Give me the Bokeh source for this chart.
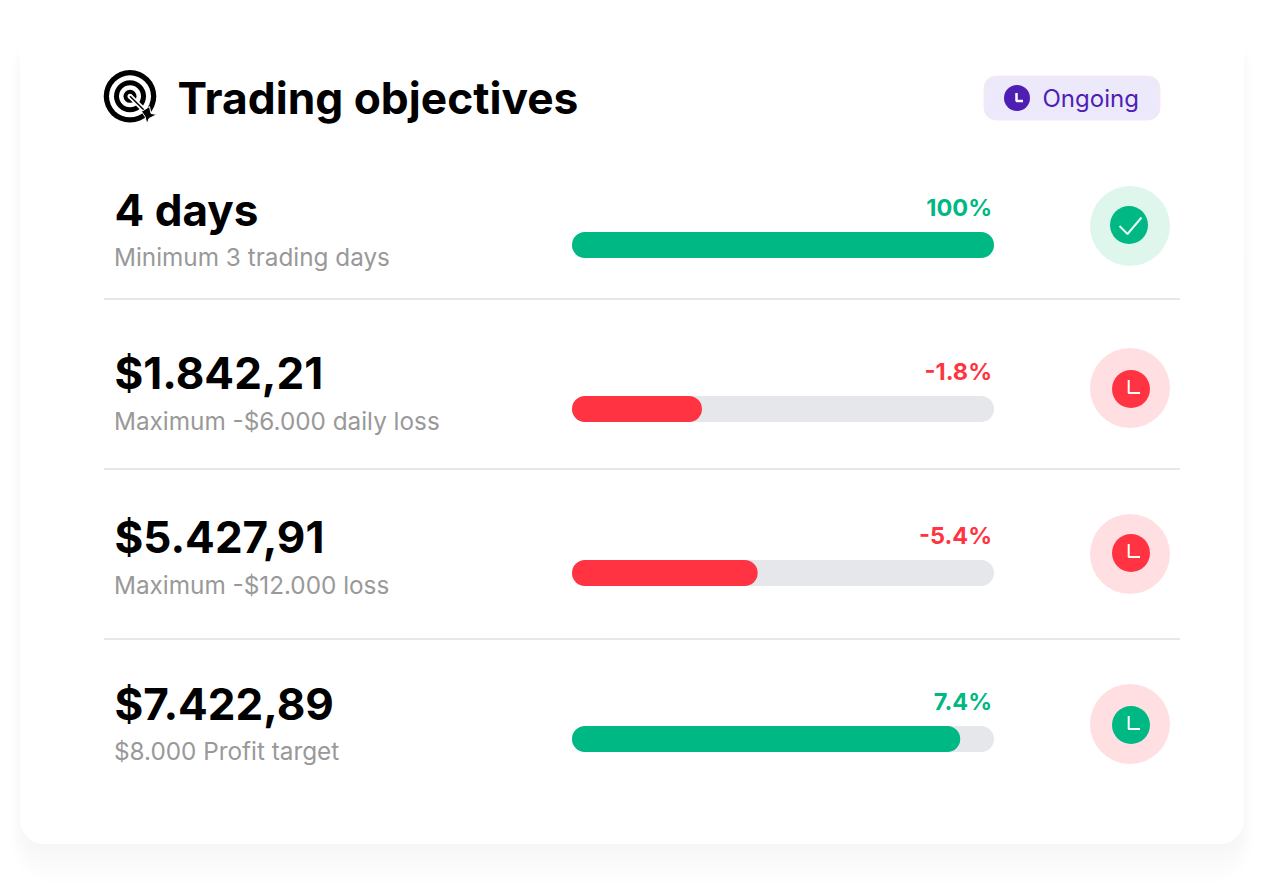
from bokeh.core.properties import value
from bokeh.embed import file_html
from bokeh.models import Range1d
from bokeh.plotting import figure
from bokeh.resources import INLINE

# chart values
values = ["4 days", "$1.842,21", "$5.427,91", "$7.422,89"]
subtitles = ["Minimum 3 trading days", "Maximum -$6.000 daily loss", "Maximum -$12.000 loss", "$8.000 Profit target"]
pct_labels = ["100%", "-1.8%", "-5.4%", "7.4%"]
progress = [100, 30.8, 44, 92]
bar_colors = ["#00b884", "#ff3341", "#ff3341", "#00b884"]
ring_colors = ["#dff6ec", "#ffdfe2", "#ffdfe2", "#ffdfe2"]
dot_colors = ["#00b884", "#ff3341", "#ff3341", "#00b884"]

# row layout, in page pixels
value_y = [210, 373, 537, 704]
sub_y = [257, 421, 585, 751]
pct_y = [207, 371, 535, 701]
bar_y = [245, 409, 573, 739]
icon_x = [1130, 1130, 1130, 1130]
icon_y = [226, 388, 554, 724]
dot_x = [1129, 1131, 1131, 1131]
dot_y = [225, 389, 553, 725]
rule_y = [299, 469, 639]

FONT = value("Inter")
GREY = "#999999"

# 1px = 1 data unit, with y running down like the page
p = figure(width=1264, height=892, x_range=Range1d(0.5, 1264.5), y_range=Range1d(892.5, 0.5),
           output_backend="svg", toolbar_location=None, min_border=0,
           background_fill_color="white", border_fill_color="white", outline_line_color=None)
p.axis.visible = False
p.grid.visible = False

# progress bars get their own 0-100 scale, 0 at x=572 and 100 at x=994
span = (994 - 572) / 100
p.extra_x_ranges["progress"] = Range1d((0.5 - 572) / span, (1264.5 - 572) / span)

# card shadow: stacked rounded boxes going from white to light grey
steps = 16
for i in range(steps):
    t = 1 - i / (steps - 1)
    shade = 255 - round((i + 1) * 9 / steps)
    p.quad(left=[24 - 13 * t], right=[1240 + 13 * t], top=[50 - 20 * t], bottom=[846 + 38 * t],
           fill_color=f"#{shade:02x}{shade:02x}{shade:02x}", line_color=None, border_radius=24 + round(20 * t))
p.quad(left=[20], right=[1244], top=[20], bottom=[844], fill_color="white", line_color=None, border_radius=24)

# target icon
for r, c in [(26.3, "black"), (21, "white"), (16, "black"), (11, "white"), (6.5, "black"), (2.5, "white")]:
    p.circle(x=[130], y=[96.3], radius=r, fill_color=c, line_color=None)
p.line(x=[130, 147], y=[96.3, 113], line_color="white", line_width=5)
p.line(x=[130, 147], y=[96.3, 113], line_color="black", line_width=1.5)
p.patch(x=[141.5, 149.5, 151, 157, 149, 147, 145], y=[111.5, 106.5, 113.5, 114.5, 118.5, 124, 116.5],
        fill_color="black", line_color="white", line_width=1)

p.text(x=[177.5], y=[98], text=["Trading objectives"], text_font=FONT, text_font_style="bold",
       text_font_size="44.3px", text_color="black", text_baseline="alphabetic")

# status badge
p.quad(left=[984], right=[1160], top=[76], bottom=[120], fill_color="#ece9fb", line_color="#fbe9ea",
       line_width=1, border_radius=12)
p.circle(x=[1017], y=[98], radius=13, fill_color="#4f1fb3", line_color=None)
p.line(x=[1016.5, 1016.5, 1023], y=[93, 101, 101], line_color="white", line_width=2.5)
p.text(x=[1042.5], y=[98], text=["Ongoing"], text_font=FONT, text_font_size="24px",
       text_color="#4f1fb3", text_baseline="alphabetic")

# rows
p.text(x=[114.5] * 4, y=value_y, text=values, text_font=FONT, text_font_style="bold", text_font_size="44px",
       text_color="black", text_baseline="alphabetic")
p.text(x=[114] * 4, y=sub_y, text=subtitles, text_font=FONT, text_font_size="24.3px",
       text_color=GREY, text_baseline="alphabetic")
p.text(x=[992] * 4, y=pct_y, text=pct_labels, text_font=FONT, text_font_style="bold", text_font_size="23.5px",
       text_color=bar_colors, text_align="right", text_baseline="alphabetic")

p.hbar(y=bar_y, left=0, right=100, height=26, x_range_name="progress", fill_color="#e6e7eb",
       line_color=None, border_radius=13)
p.hbar(y=bar_y, left=0, right=progress, height=26, x_range_name="progress", fill_color=bar_colors,
       line_color=None, border_radius=13)

for y in rule_y:
    p.line(x=[104, 1180], y=[y, y], line_color="#e6e7eb", line_width=2)

# status icons
p.circle(x=icon_x, y=icon_y, radius=40, fill_color=ring_colors, line_color=None)
p.circle(x=dot_x, y=dot_y, radius=19, fill_color=dot_colors, line_color=None)
p.line(x=[1119.5, 1127.5, 1141.5], y=[226, 234, 217.5], line_color="#e8f8f2", line_width=2)
for x, y in zip(dot_x[1:], dot_y[1:]):
    p.line(x=[x - 2.3, x - 2.3, x + 9], y=[y - 9, y + 4, y + 4], line_color="white", line_width=2)

open("out.html", "w").write(file_html(p, INLINE))
